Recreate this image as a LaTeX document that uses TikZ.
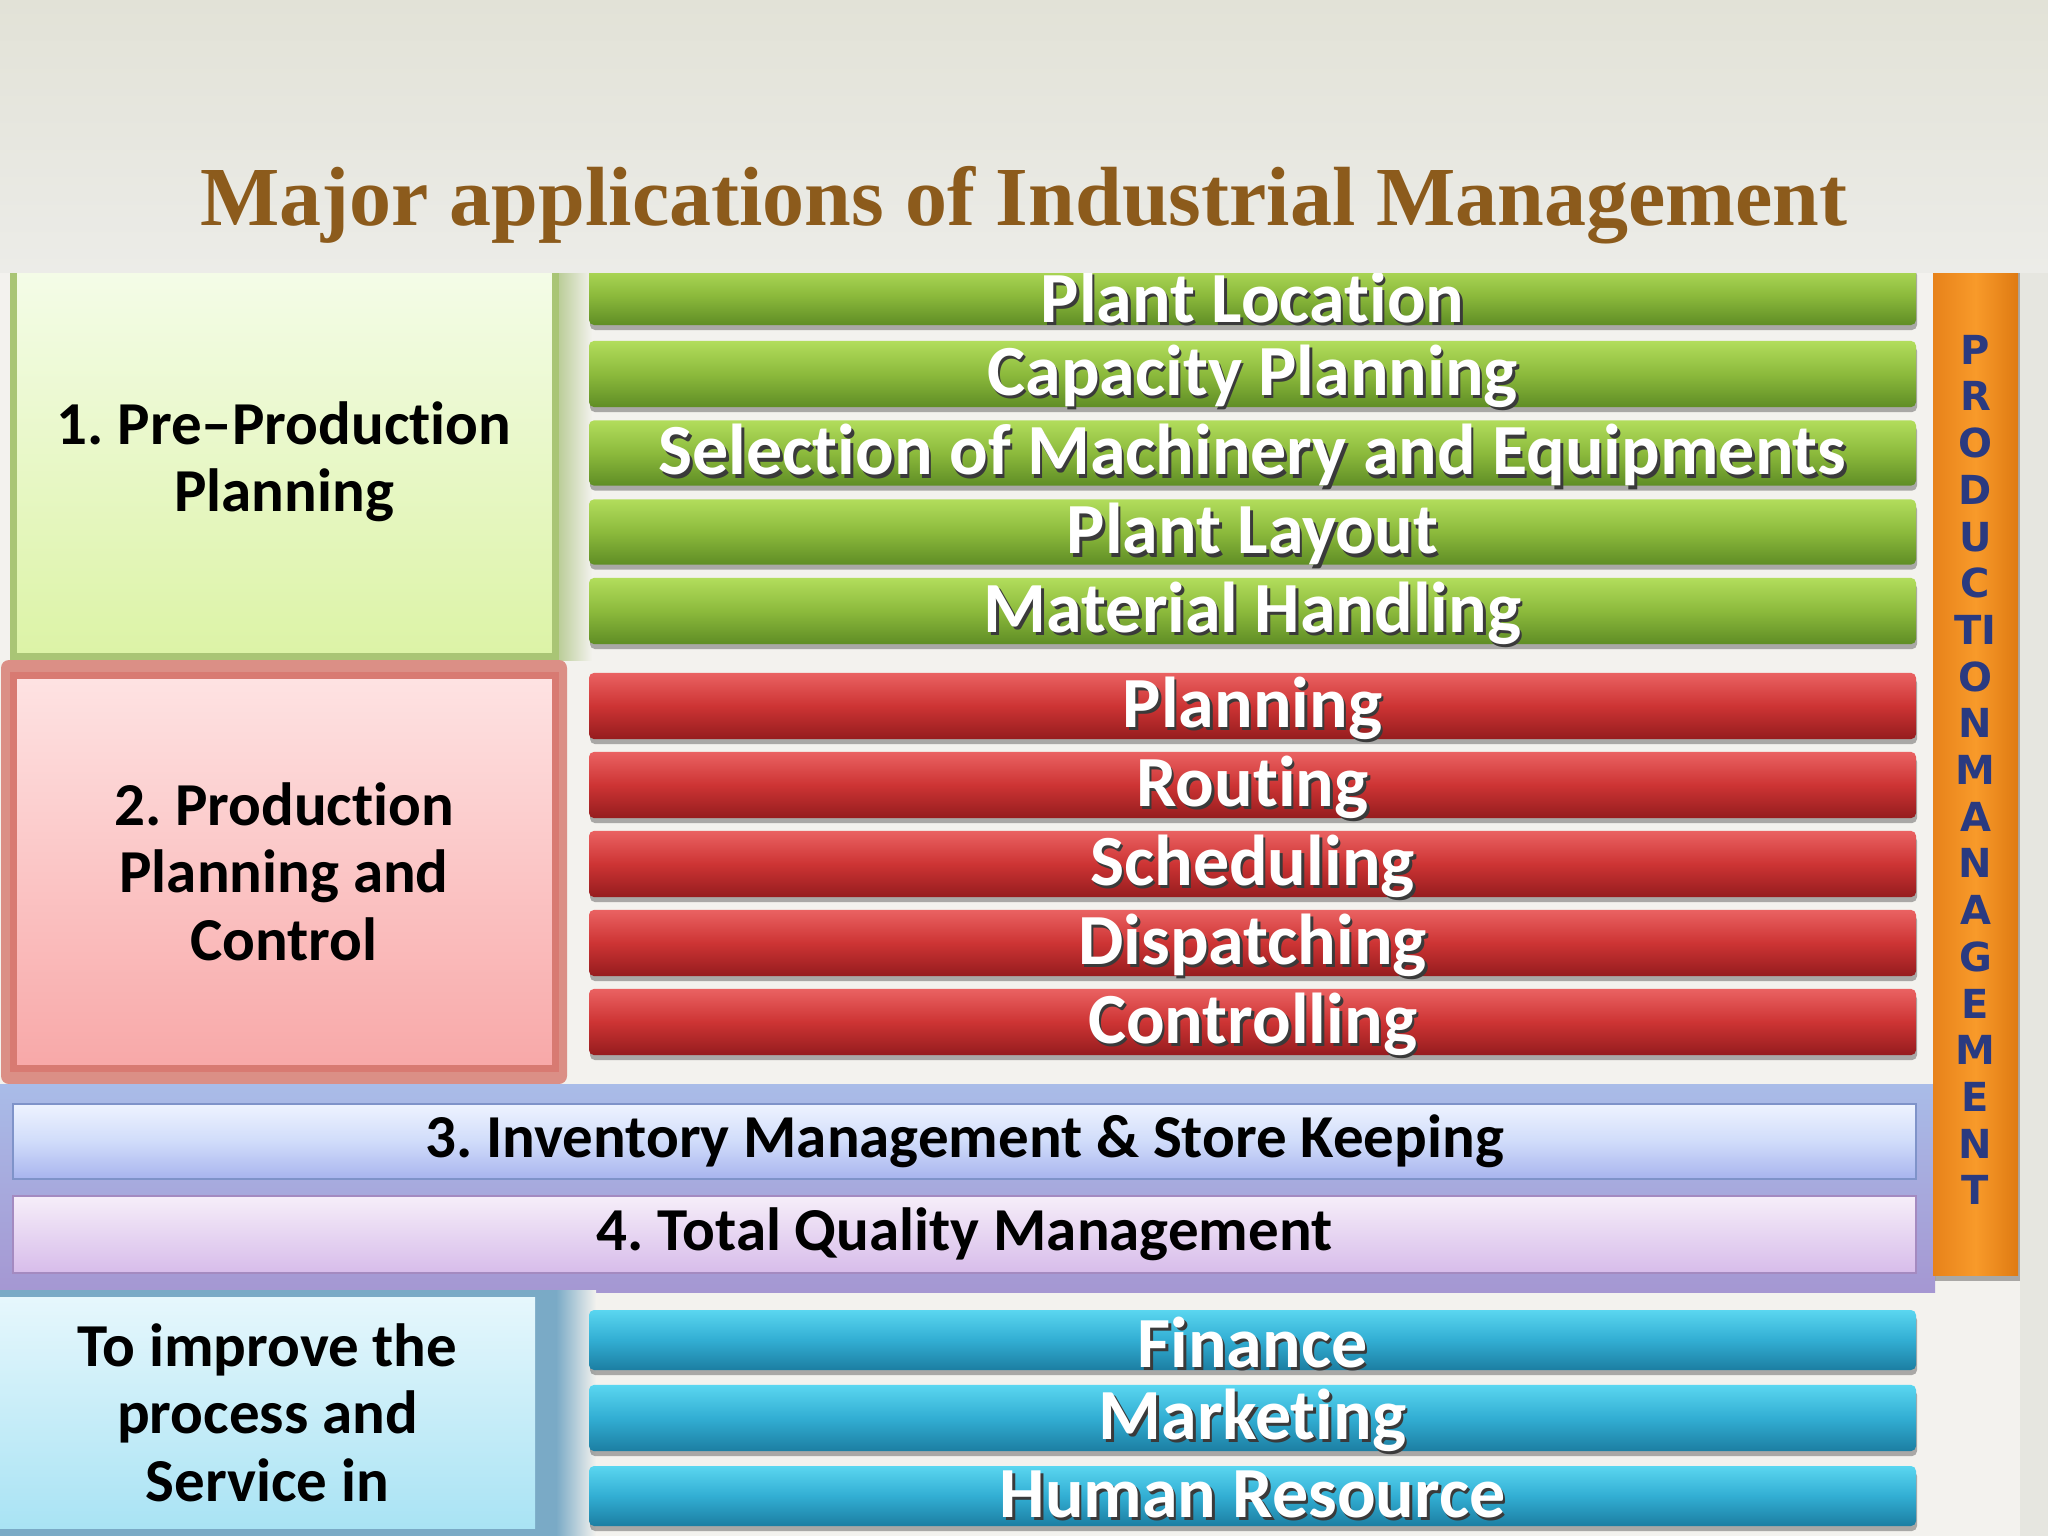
\documentclass[tikz,border=0pt]{standalone}
\usepackage{fontspec}
\setmainfont{Carlito}[RawFeature={-liga;-clig;-calt;-dlig}]
\newfontfamily\titlefont{Liberation Serif}
\newfontfamily\lettfont{DejaVu Sans}
\usetikzlibrary{shadows}
\frenchspacing

\definecolor{pagebg}{HTML}{F3F2EE}
\definecolor{bandTop}{HTML}{E2E2D7}
\definecolor{bandBot}{HTML}{ECECE8}
\definecolor{sidebg}{HTML}{E6E6E0}
\definecolor{titlecol}{HTML}{8C5B1C}
\definecolor{gTop}{HTML}{B2DD5C}
\definecolor{gMid}{HTML}{8CBA3C}
\definecolor{gBot}{HTML}{5F8D25}
\definecolor{rTop}{HTML}{EA6262}
\definecolor{rMid}{HTML}{CD3434}
\definecolor{rBot}{HTML}{951C1E}
\definecolor{cTop}{HTML}{5AD6F0}
\definecolor{cMid}{HTML}{32AED3}
\definecolor{cBot}{HTML}{1C7EA2}
\definecolor{letcol}{HTML}{2A3A80}
\definecolor{txtshadow}{HTML}{3A3A3A}
\definecolor{gboxTop}{HTML}{F4FCE8}
\definecolor{gboxBot}{HTML}{DCF3A6}
\definecolor{gboxLine}{HTML}{A9C575}
\definecolor{rboxTop}{HTML}{FEE3E3}
\definecolor{rboxBot}{HTML}{F8A8A8}
\definecolor{rboxLine}{HTML}{D87A72}
\definecolor{redglow}{HTML}{DB8F86}
\definecolor{invTop}{HTML}{EEF3FF}
\definecolor{invMid}{HTML}{D0DCFA}
\definecolor{invBot}{HTML}{A8B4EE}
\definecolor{invLine}{HTML}{7F93C9}
\definecolor{tqmTop}{HTML}{F6EEF9}
\definecolor{tqmBot}{HTML}{D7BCEA}
\definecolor{tqmLine}{HTML}{A48AC0}
\definecolor{blueglowTop}{HTML}{A9BCE8}
\definecolor{blueglowBot}{HTML}{A597D2}
\definecolor{steel}{HTML}{7AAAC6}
\definecolor{cboxTop}{HTML}{E6F7FC}
\definecolor{cboxBot}{HTML}{A9E3F4}
\definecolor{oLeft}{HTML}{E7821A}
\definecolor{oMid}{HTML}{F89A2A}
\definecolor{oRight}{HTML}{DF7A12}
\definecolor{gstrip}{HTML}{B5C98F}

\newcommand{\shtxt}[1]{\raisebox{-4pt}[\height][\depth]{\makebox[0pt][l]{\hspace{2.5pt}\raisebox{-3.5pt}{\textcolor{txtshadow}{#1}}}\textcolor{white}{#1}}}
\newcommand{\shtxtup}[1]{\makebox[0pt][l]{\hspace{2.5pt}\raisebox{-3pt}{\textcolor{txtshadow}{#1}}}\textcolor{white}{#1}}

\begin{document}
\begin{tikzpicture}[x=1pt,y=-1pt,
  barbase/.style={rectangle, rounded corners=5pt, minimum width=1327pt, minimum height=60pt, inner sep=0pt,
    font=\bfseries\fontsize{72}{80}\selectfont,
    drop shadow={shadow xshift=1pt, shadow yshift=-5pt, opacity=0.3, fill=black}},
  gbar/.style={barbase, top color=gTop, bottom color=gBot, middle color=gMid},
  rbar/.style={barbase, top color=rTop, bottom color=rBot, middle color=rMid},
  cbar/.style={barbase, top color=cTop, bottom color=cBot, middle color=cMid},
  lbox/.style={rectangle, inner sep=0pt, align=center, text=black,
    font=\bfseries\fontsize{61}{67.5}\selectfont},
  wbar/.style={rectangle, inner sep=0pt, minimum width=1903pt, text=black,
    font=\bfseries\fontsize{61}{67.5}\selectfont}
]
\useasboundingbox (0,0) rectangle (2048,1536);
% page backgrounds
\fill[pagebg] (0,0) rectangle (2048,1536);
\fill[sidebg] (2020,0) rectangle (2048,1536);
% glows and strips
\shade[left color=gstrip, right color=pagebg] (555,272) rectangle (592,660);
\fill[redglow, rounded corners=8pt] (1,660) rectangle (567,1084);
\shade[top color=blueglowTop, bottom color=blueglowBot] (0,1084) rectangle (1935,1292);
\fill[steel] (0,1290) rectangle (556,1536);
\shade[left color=steel, right color=pagebg] (556,1290) rectangle (596,1536);

% left boxes
\node[lbox, minimum width=542pt, minimum height=388pt, top color=gboxTop, bottom color=gboxBot,
      draw=gboxLine, line width=7pt] (pre) at (284,462) {1. Pre–Production\\Planning};
\node[lbox, minimum width=542pt, minimum height=393pt, top color=rboxTop, bottom color=rboxBot,
      draw=rboxLine, line width=7pt] (ppc) at (284,871.5) {2. Production\\Planning and\\Control};
\node[lbox, minimum width=535pt, minimum height=231pt, top color=cboxTop, bottom color=cboxBot]
      (imp) at (267.5,1412.5) {To improve the\\process and\\Service in};

% green bars
\node[gbar] (g1) at (1252.5,295) {\shtxt{Plant Location}};
\node[gbar] (g2) at (1252.5,374) {\shtxt{Capacity Planning}};
\node[gbar] (g3) at (1252.5,453) {\shtxt{Selection of Machinery and Equipments}};
\node[gbar] (g4) at (1252.5,532) {\shtxt{Plant Layout}};
\node[gbar] (g5) at (1252.5,611) {\shtxt{Material Handling}};
% red bars
\node[rbar] (r1) at (1252.5,706) {\shtxt{Planning}};
\node[rbar] (r2) at (1252.5,785) {\shtxt{Routing}};
\node[rbar] (r3) at (1252.5,864) {\shtxt{Scheduling}};
\node[rbar] (r4) at (1252.5,943) {\shtxt{Dispatching}};
\node[rbar] (r5) at (1252.5,1022) {\shtxt{Controlling}};
% wide bars
\node[wbar, minimum height=75pt, top color=invTop, bottom color=invBot, middle color=invMid,
      draw=invLine, line width=2.5pt] (inv) at (964.5,1141.5) {3. Inventory Management \& Store Keeping};
\node[wbar, minimum height=77pt, top color=tqmTop, bottom color=tqmBot,
      draw=tqmLine, line width=2.5pt] (tqm) at (964.5,1234.5) {4. Total Quality Management};
% cyan bars
\node[cbar] (c1) at (1252.5,1340) {\shtxt{Finance}};
\node[cbar] (c2) at (1252.5,1418) {\shtxt{Marketing}};
\node[cbar] (c3) at (1252.5,1496) {\shtxtup{Human Resource}};

% orange vertical bar
\node[rectangle, minimum width=85pt, minimum height=1011pt, inner sep=0pt,
      left color=oLeft, right color=oRight, middle color=oMid,
      drop shadow={shadow xshift=2pt, shadow yshift=-5pt, opacity=0.3, fill=black},
      align=center, text=letcol, font=\lettfont\bfseries\fontsize{40}{46.7}\selectfont]
      (pm) at (1975.5,770) {P\\R\\O\\D\\U\\C\\TI\\O\\N\\M\\A\\N\\A\\G\\E\\M\\E\\N\\T};

% title band
\shade[top color=bandTop, bottom color=bandBot] (0,0) rectangle (2048,272);
\node[font=\titlefont\bfseries\fontsize{84}{90}\selectfont, text=titlecol, anchor=base]
      (title) at (1024,225) {Major applications of Industrial Management};
\end{tikzpicture}
\end{document}
